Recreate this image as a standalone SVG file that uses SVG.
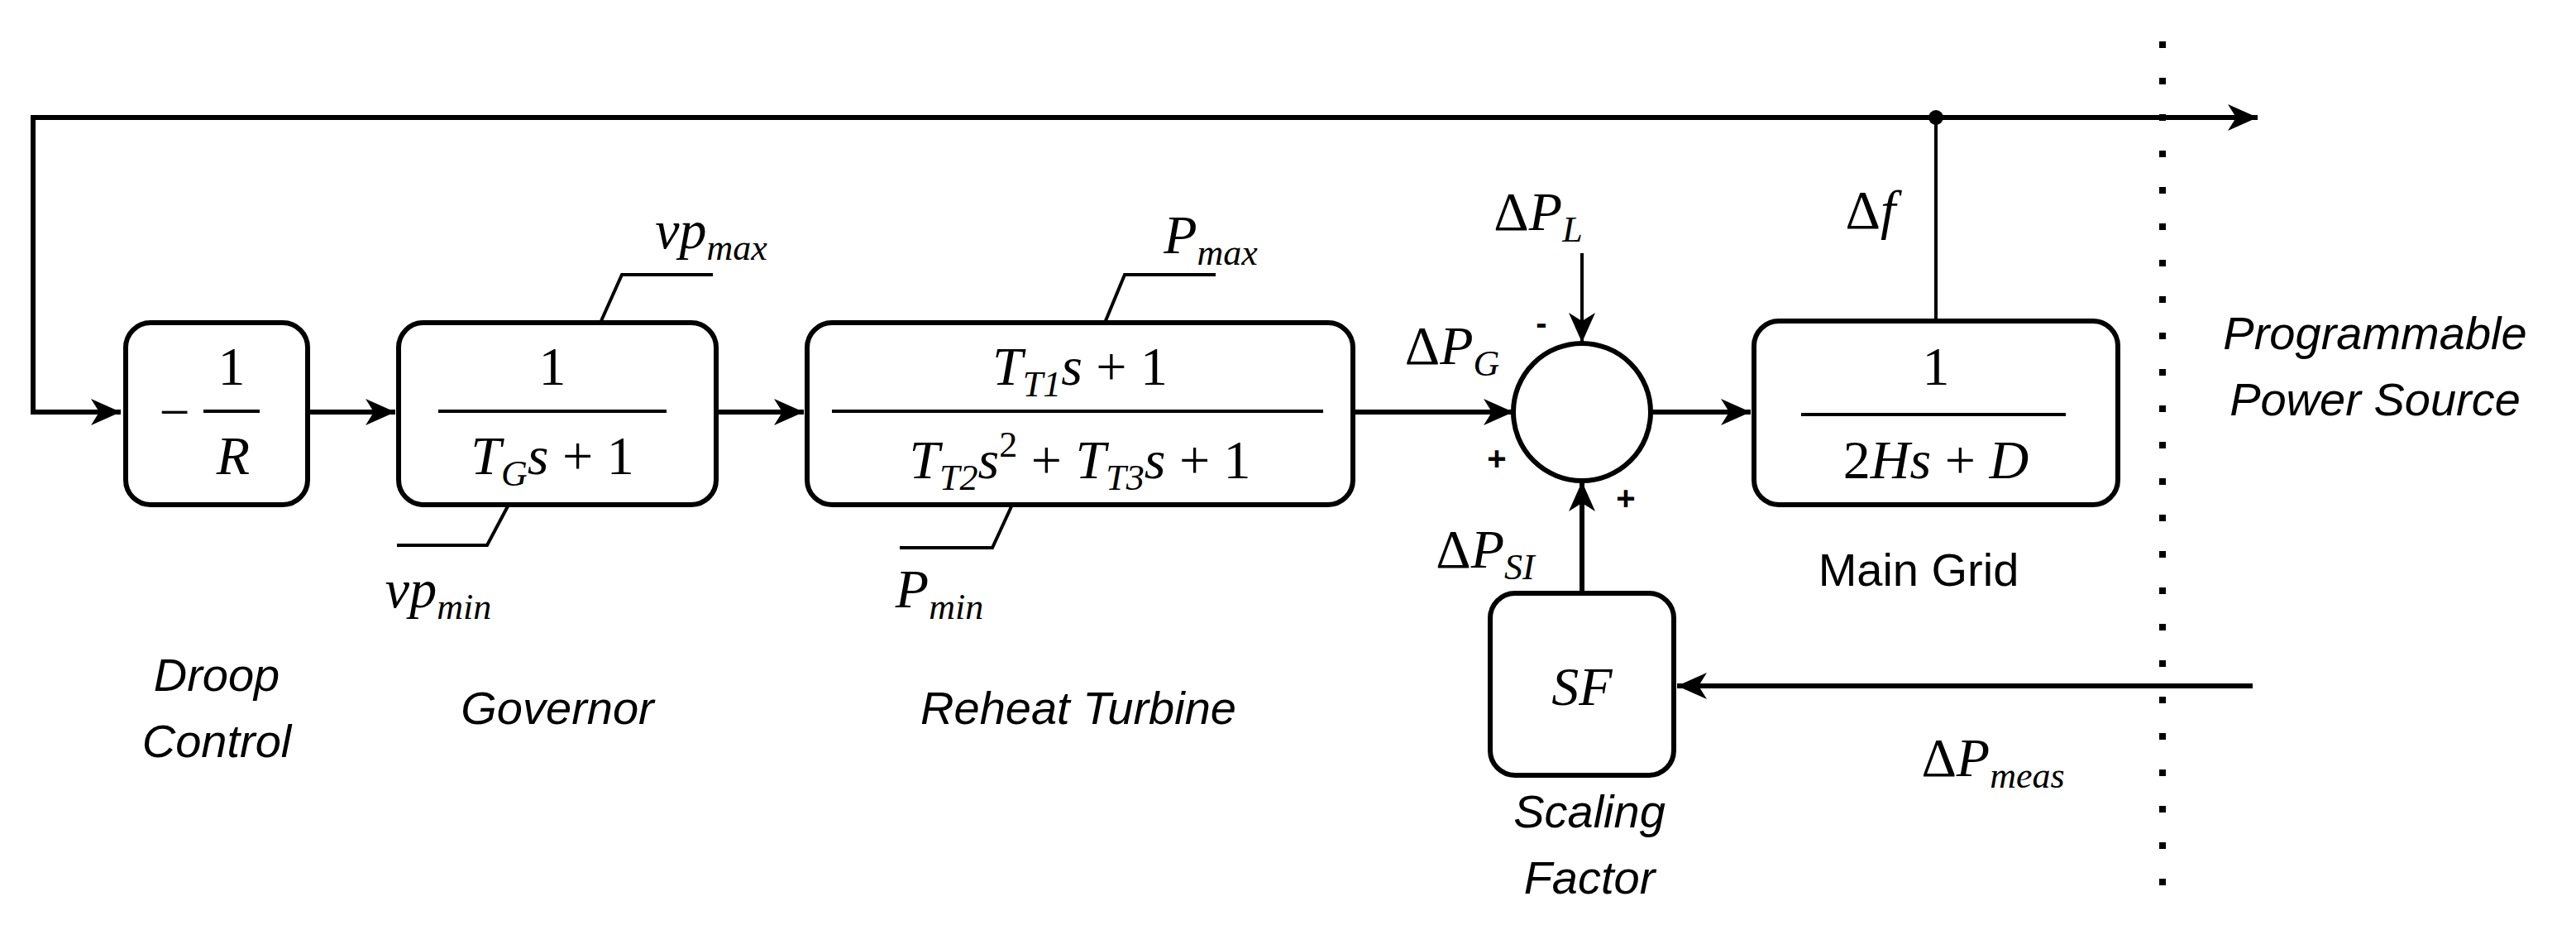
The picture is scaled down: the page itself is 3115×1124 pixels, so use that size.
<svg xmlns="http://www.w3.org/2000/svg" width="3115" height="1124" viewBox="0 0 3115 1124">
<style>
.b{fill:#fff;stroke:#000;stroke-width:6}
.l{fill:none;stroke:#000;stroke-width:6}
.t{fill:none;stroke:#000;stroke-width:4}
.m{font-family:"Liberation Serif",serif;font-size:66px;fill:#000;text-anchor:middle}
.i{font-style:italic}
.s{font-family:"Liberation Sans",Arial,sans-serif;font-size:56px;fill:#000;text-anchor:middle}
.p{font-family:"Liberation Sans",Arial,sans-serif;font-size:40px;font-weight:bold;fill:#000;text-anchor:middle}
</style>
<defs>
<marker id="a" markerUnits="userSpaceOnUse" markerWidth="40" markerHeight="40" refX="36" refY="20" orient="auto">
<path d="M0,4 L36,20 L0,36 L10,20 Z" fill="#000"/>
</marker>
</defs>
<g id="connectors">
<path class="l" d="M2341,142 H40 V498 H146" marker-end="url(#a)"/>
<path class="l" d="M2341,142 H2730" marker-end="url(#a)"/>
<circle cx="2341" cy="142" r="9"/>
<path class="t" d="M2341,388 V142"/>
<path class="l" d="M372,498 H478" marker-end="url(#a)"/>
<path class="l" d="M866,498 H972" marker-end="url(#a)"/>
<path class="l" d="M1636,498 H1830" marker-end="url(#a)"/>
<path class="l" d="M1996,498 H2117" marker-end="url(#a)"/>
<path class="t" d="M1913,306 V414" marker-end="url(#a)"/>
<path class="l" d="M1913,717 V582" marker-end="url(#a)"/>
<path class="l" d="M2724,829 H2028" marker-end="url(#a)"/>
<path class="t" d="M726,390 L752,332 H862"/>
<path class="t" d="M615,610 L589,659 H480"/>
<path class="t" d="M1336,390 L1360,332 H1470"/>
<path class="t" d="M1224,610 L1200,662 H1088"/>
<path d="M2615,50 V1080" stroke="#000" stroke-width="8" stroke-dasharray="8 36" fill="none"/>
</g>
<g id="droop">
<rect class="b" x="152" y="390" width="220" height="220" rx="30"/>
<text class="m" x="211" y="520">−</text>
<text class="m" x="280" y="465">1</text>
<path class="t" d="M246,497 H314"/>
<text class="m i" x="282" y="573">R</text>
<text class="s i" x="262" y="835">Droop</text>
<text class="s i" x="262" y="915">Control</text>
</g>
<g id="governor">
<rect class="b" x="482" y="390" width="384" height="220" rx="30"/>
<text class="m" x="668" y="465">1</text>
<path class="t" d="M530,497 H806"/>
<text class="m" x="668" y="573"><tspan class="i">T</tspan><tspan class="i" font-size="44" dy="14">G</tspan><tspan class="i" dy="-14">s</tspan> + 1</text>
<text class="m i" x="860" y="300">vp<tspan font-size="44" dy="14">max</tspan></text>
<text class="m i" x="530" y="734">vp<tspan font-size="44" dy="14">min</tspan></text>
<text class="s i" x="674" y="875">Governor</text>
</g>
<g id="turbine">
<rect class="b" x="976" y="390" width="660" height="220" rx="30"/>
<text class="m" x="1306" y="465"><tspan class="i">T</tspan><tspan class="i" font-size="44" dy="14">T1</tspan><tspan class="i" dy="-14">s</tspan> + 1</text>
<path class="t" d="M1006,497 H1600"/>
<text class="m" x="1306" y="578"><tspan class="i">T</tspan><tspan class="i" font-size="44" dy="14">T2</tspan><tspan class="i" dy="-14">s</tspan><tspan font-size="44" dy="-26">2</tspan><tspan dy="26"> + </tspan><tspan class="i">T</tspan><tspan class="i" font-size="44" dy="14">T3</tspan><tspan class="i" dy="-14">s</tspan> + 1</text>
<text class="m i" x="1464" y="306">P<tspan font-size="44" dy="14">max</tspan></text>
<text class="m i" x="1136" y="734">P<tspan font-size="44" dy="14">min</tspan></text>
<text class="s i" x="1304" y="875">Reheat Turbine</text>
</g>
<g id="sum">
<circle class="b" cx="1913" cy="498" r="83"/>
<text class="m" x="1756" y="440">Δ<tspan class="i">P</tspan><tspan class="i" font-size="44" dy="14">G</tspan></text>
<text class="m" x="1860" y="278">Δ<tspan class="i">P</tspan><tspan class="i" font-size="44" dy="14">L</tspan></text>
<text class="m" x="1796" y="686">Δ<tspan class="i">P</tspan><tspan class="i" font-size="44" dy="14">SI</tspan></text>
<text class="p" x="1864" y="404">-</text>
<text class="p" x="1810" y="568">+</text>
<text class="p" x="1966" y="616">+</text>
</g>
<g id="maingrid">
<rect class="b" x="2121" y="388" width="440" height="222" rx="30"/>
<text class="m" x="2341" y="465">1</text>
<path class="t" d="M2178,501 H2498"/>
<text class="m" x="2341" y="578">2<tspan class="i">Hs</tspan> + <tspan class="i">D</tspan></text>
<text class="m" x="2262" y="276">Δ<tspan class="i">f</tspan></text>
<text class="s" x="2320" y="708">Main Grid</text>
</g>
<g id="sf">
<rect class="b" x="1802" y="717" width="222" height="220" rx="30"/>
<text class="m i" x="1913" y="852">SF</text>
<text class="s i" x="1922" y="1000">Scaling</text>
<text class="s i" x="1922" y="1080">Factor</text>
<text class="m" x="2410" y="938">Δ<tspan class="i">P</tspan><tspan class="i" font-size="44" dy="14">meas</tspan></text>
</g>
<g id="source">
<text class="s i" x="2872" y="422">Programmable</text>
<text class="s i" x="2872" y="502">Power Source</text>
</g>
</svg>
